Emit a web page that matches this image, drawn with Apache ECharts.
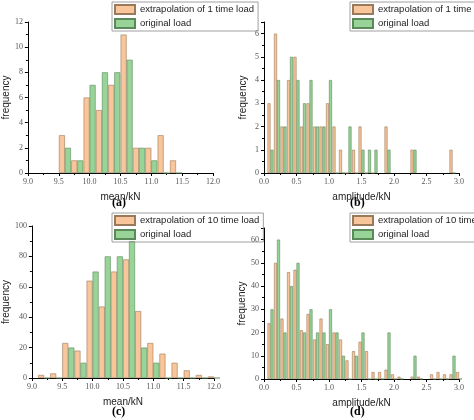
<!DOCTYPE html>
<html><head><meta charset="utf-8">
<script src="https://cdn.jsdelivr.net/npm/echarts@6/dist/echarts.min.js"></script>
<style>html,body{margin:0;background:#fff}#c{width:474px;height:420px}</style>
</head><body><div id="c"></div>
<script>
// Panel (a)/(c): mean bins
const meanBinsA = [9.6,9.8,10.0,10.2,10.4,10.6,10.8,11.0,11.2,11.4];
const extrap1Mean = [3,1,6,5,7,11,2,2,3,1];
const orig1Mean   = [2,1,7,8,8,9,2,1,0,0];
const meanBinsC = [9.2,9.4,9.6,9.8,10.0,10.2,10.4,10.6,10.8,11.0,11.2,11.4,11.6,11.8,12.0];
const extrap10Mean = [2,3,23,18,64,47,70,78,44,23,16,10,5,2,1];
const orig10Mean   = [0,0,20,10,70,80,80,90,20,10,0,0,0,0,0];
// Panel (b): amplitude bins
const ampBinsB = [0.1,0.2,0.3,0.4,0.5,0.6,0.7,0.8,0.9,1.0,1.1,1.2,1.3,1.4,1.5,1.6,1.7,1.9,2.3,2.9];
const extrap1Amp = [3,6,2,4,5,2,3,2,2,3,2,1,0,1,2,0,0,2,1,1];
const orig1Amp   = [1,4,2,5,4,3,4,2,2,4,0,0,2,0,1,1,1,1,1,0];
// Panel (d)
const ampBinsD = [0.1,0.2,0.3,0.4,0.5,0.6,0.7,0.8,0.9,1.0,1.1,1.2,1.3,1.4,1.5,1.6,1.7,1.8,1.9,2.0,2.1,2.3,2.4,2.6,2.7,2.8,2.9,3.0];
const extrap10Amp = [24,50,26,46,47,21,28,17,26,15,20,17,8,12,16,12,3,3,4,2,1,1,1,2,3,2,2,3];
const orig10Amp   = [30,60,20,40,50,20,30,20,20,30,20,10,0,10,20,0,0,0,20,0,0,10,0,0,0,0,10,0];

const ORANGE='#f9c59a', GREEN='#98d398';
const axisLbl={color:'#555',fontFamily:'Liberation Serif',fontSize:8};
function mk(i,bins,ex,og,xr,yr,bw,grid,xname,exName,legPos,tag){
  const zip=(a)=>bins.map((b,k)=>[b,a[k]]);
  return {
    grid:Object.assign({},grid),
    xAxis:{gridIndex:i,type:'value',min:xr[0],max:xr[1],interval:xr[2],
      axisLine:{show:true,lineStyle:{color:'#000',width:1}},axisTick:{show:true,length:3,lineStyle:{color:'#000'}},
      minorTick:{show:true,splitNumber:2,length:2,lineStyle:{color:'#000'}},splitLine:{show:false},
      axisLabel:Object.assign({formatter:v=>v.toFixed(1),margin:5},axisLbl),
      name:xname,nameLocation:'middle',nameGap:19,nameTextStyle:{fontFamily:'Liberation Sans',fontSize:10,color:'#222'}},
    yAxis:{gridIndex:i,type:'value',min:0,max:yr[0],interval:yr[1],
      axisLine:{show:true,lineStyle:{color:'#000',width:1}},axisTick:{show:true,length:3,lineStyle:{color:'#000'}},
      minorTick:{show:true,splitNumber:2,length:2,lineStyle:{color:'#000'}},splitLine:{show:false},
      axisLabel:Object.assign({formatter:v=>(v>yr[2]?'':v),margin:5},axisLbl),
      name:'frequency',nameLocation:'middle',nameGap:16,nameTextStyle:{fontFamily:'Liberation Sans',fontSize:10,color:'#222'}},
    series:[
      {type:'bar',name:exName,xAxisIndex:i,yAxisIndex:i,data:zip(ex),barWidth:bw,barGap:'0%',
        itemStyle:{color:ORANGE,borderColor:'#9a7a5a',borderWidth:0.6}},
      {type:'bar',name:'original load',xAxisIndex:i,yAxisIndex:i,data:zip(og),barWidth:bw,barGap:'0%',
        itemStyle:{color:GREEN,borderColor:'#5a8a5a',borderWidth:0.6}}],
    legend:{left:legPos[0],top:legPos[1],orient:'vertical',itemWidth:20,itemHeight:9,itemGap:3,padding:[2,4,2,2],
      borderColor:'#888',borderWidth:0.8,icon:'rect',data:[exName,'original load'],
      textStyle:{fontFamily:'Liberation Sans',fontSize:9.5,color:'#222'}},
    tag:tag
  };
}
const P=[
 mk(0,meanBinsA,extrap1Mean,orig1Mean,[9,12,0.5],[12,2,12],6,{left:27,right:261,top:22,bottom:247},'mean/kN','extrapolation of 1 time load',[112,2],{t:'(a)',x:120,y:205}),
 mk(1,ampBinsB,extrap1Amp,orig1Amp,[0,3,0.5],[6.5,1,6],3,{left:264,right:15,top:22,bottom:247},'amplitude/kN','extrapolation of 1 time load ',[350,2],{t:'(b)',x:358,y:205}),
 mk(2,meanBinsC,extrap10Mean,orig10Mean,[9,12,0.5],[100,20,100],6,{left:27,right:260,top:226,bottom:42},'mean/kN','extrapolation of 10 time load',[112,213],{t:'(c)',x:120,y:414}),
 mk(3,ampBinsD,extrap10Amp,orig10Amp,[0,3,0.5],[65,10,60],3,{left:264,right:15,top:228,bottom:41},'amplitude/kN','extrapolation of 10 time load ',[350,213],{t:'(d)',x:358,y:414})
];
const opt={animation:false,grid:P.map(p=>p.grid),xAxis:P.map(p=>p.xAxis),yAxis:P.map(p=>p.yAxis),
  series:[].concat(...P.map(p=>p.series)),legend:P.map(p=>p.legend),
  graphic:P.map(p=>({type:'text',left:p.tag.x-8,top:p.tag.y-8,style:{text:p.tag.t,font:'bold 12px "Liberation Serif"',fill:'#000'}}))};
const ch=echarts.init(document.getElementById('c'));
ch.setOption(opt);
</script></body></html>
